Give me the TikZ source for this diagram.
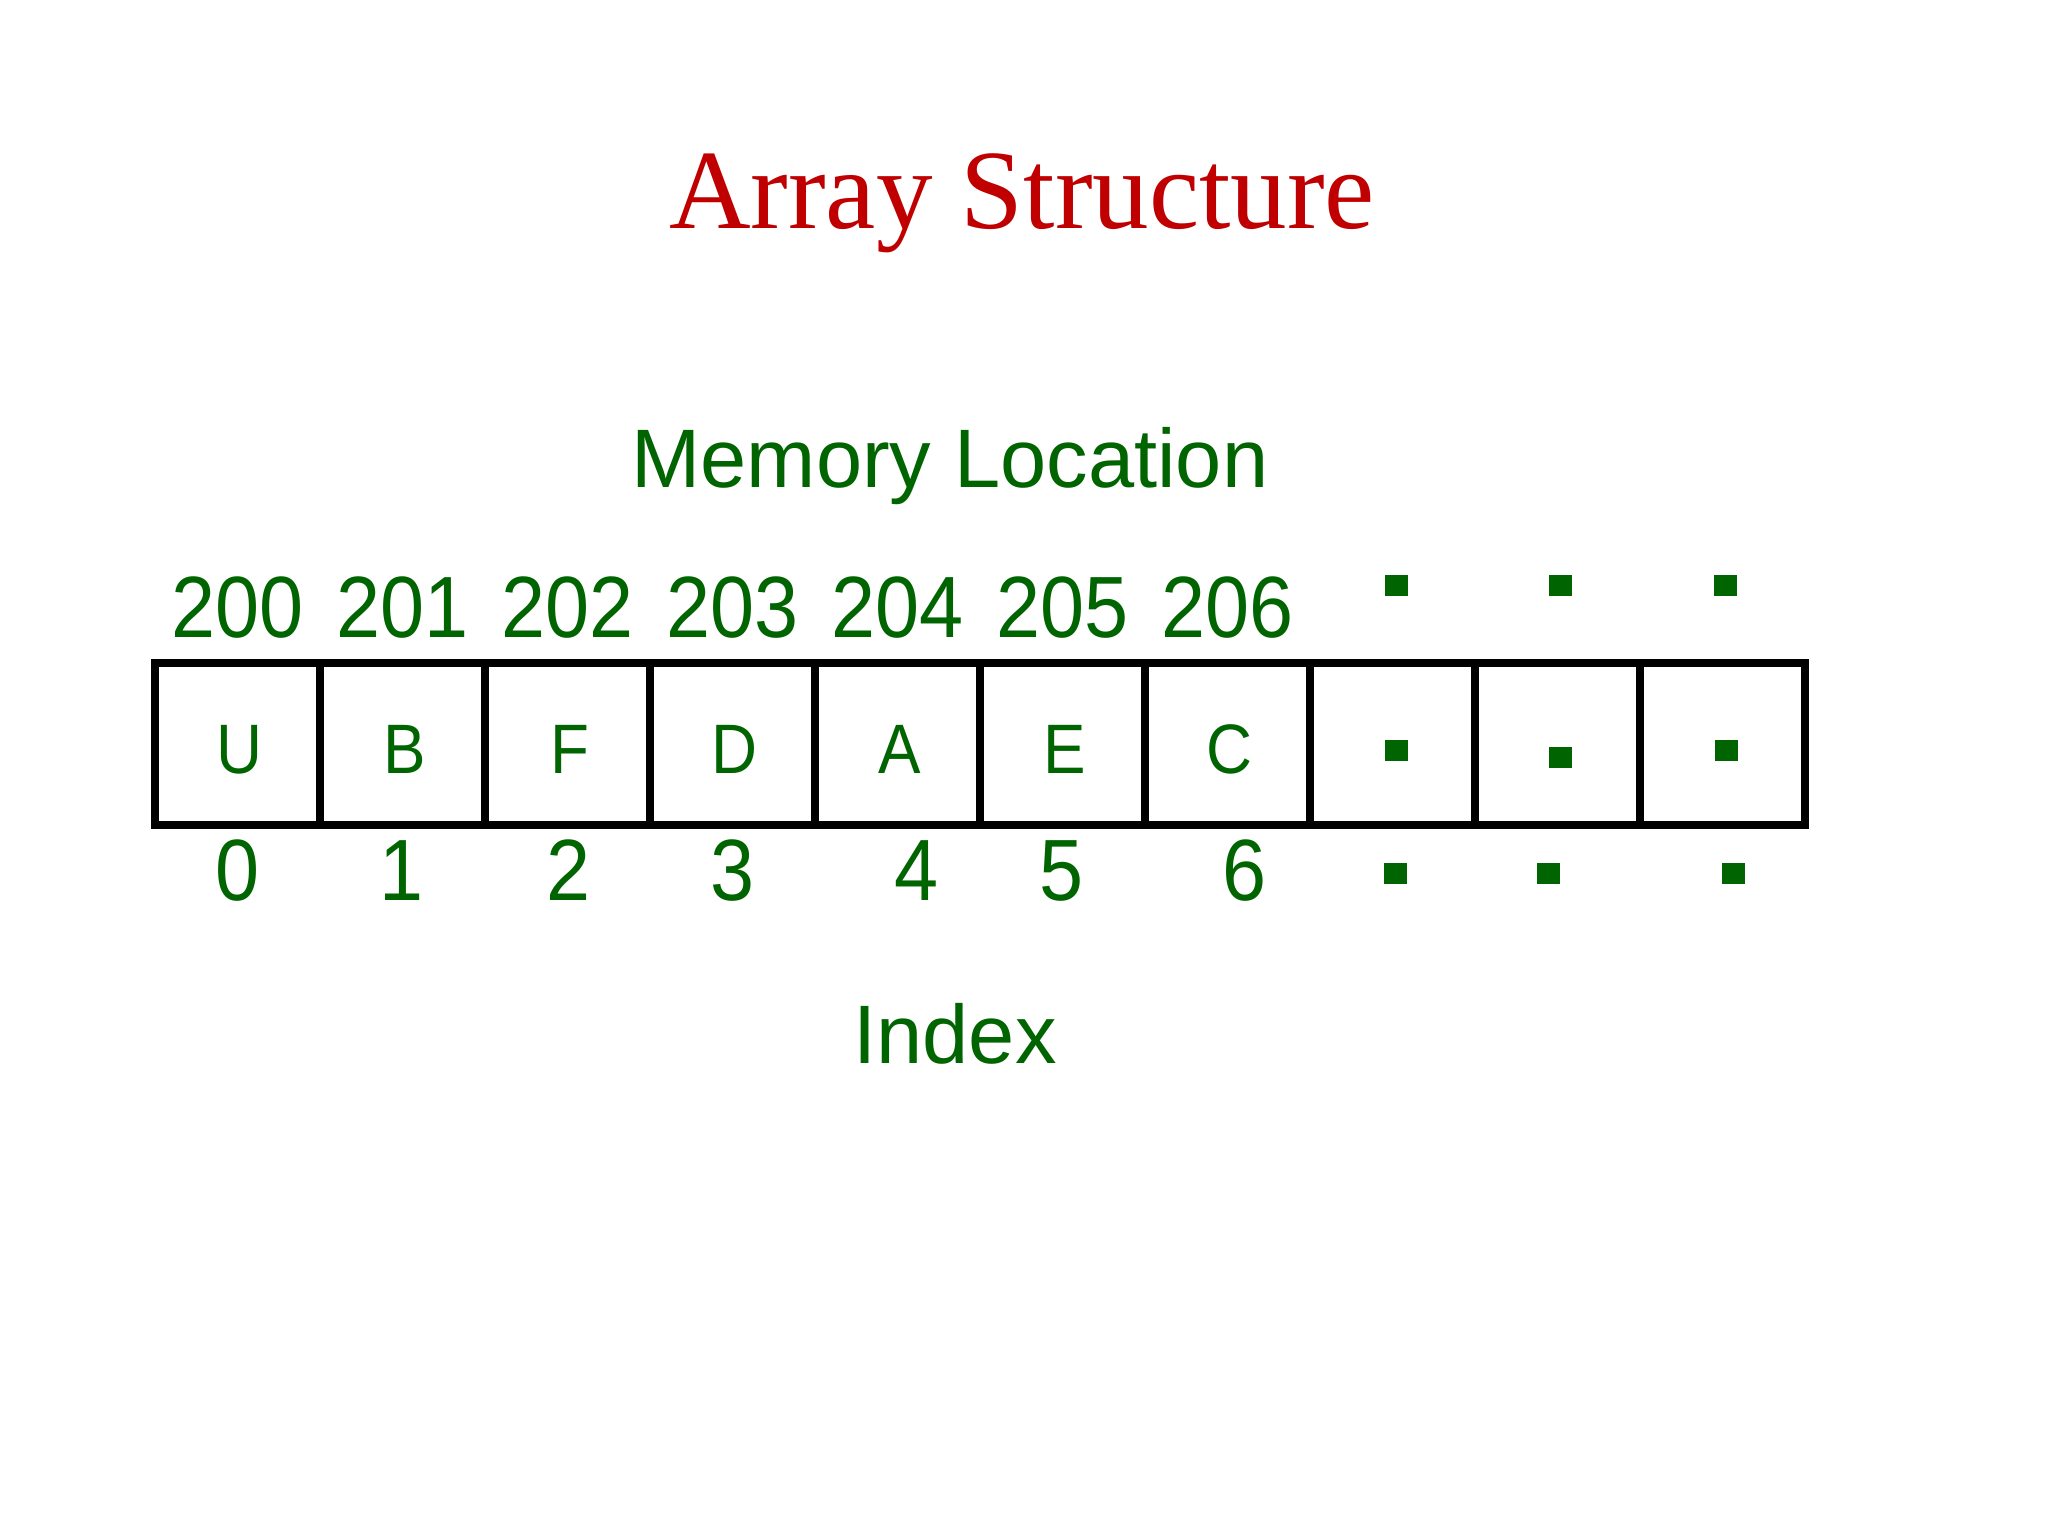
\documentclass[tikz,border=0pt]{standalone}
\usepackage{fontspec}
\setmainfont{Liberation Sans}
\newfontfamily\titlefont{Liberation Serif}
\newfontfamily\condfont[FakeStretch=0.91]{Liberation Sans}
\definecolor{titlered}{RGB}{192,0,0}
\definecolor{dgreen}{RGB}{0,100,0}
\begin{document}
\begin{tikzpicture}[x=1pt,y=-1pt,
  cellbox/.style={draw=black, line width=7.5pt, minimum width=165pt, minimum height=162pt, inner sep=0pt},
  celltext/.style={anchor=base, inner sep=0pt, text=dgreen, font=\condfont\fontsize{70}{80}\selectfont},
  numtext/.style={anchor=base, inner sep=0pt, text=dgreen, font=\condfont\fontsize{87}{100}\selectfont},
  headtext/.style={anchor=base, inner sep=0pt, text=dgreen, font=\fontsize{83}{96}\selectfont},
  titletext/.style={anchor=base, inner sep=0pt, text=titlered, font=\titlefont\fontsize{113}{130}\selectfont},
  sq/.style={fill=dgreen, minimum width=23pt, minimum height=21pt, inner sep=0pt}]
\path[fill=white, use as bounding box] (0,0) rectangle (2048,1535);

\node[titletext] (title) at (1022,228) {Array Structure};
\node[headtext] (memloc) at (950,487) {Memory Location};
\node[headtext] (index) at (955,1063) {Index};

% cells
\foreach \i in {1,...,10} {
  \node[cellbox] (c\i) at ({155+165*(\i-0.5)},744) {};
}
% cell contents
\foreach \l [count=\i] in {U,B,F,D,A,E,C} {
  \node[celltext] (v\i) at ({155+165*(\i-0.5)+2},773) {\l};
}
% addresses
\foreach \a [count=\i] in {200,201,202,203,204,205,206} {
  \node[numtext] (a\i) at ({155+165*(\i-0.5)},637) {\a};
}
% indices
\node[numtext] (i1) at (238,900) {0};
\node[numtext] (i2) at (402,900) {1};
\node[numtext] (i3) at (569,900) {2};
\node[numtext] (i4) at (733,900) {3};
\node[numtext] (i5) at (917,900) {4};
\node[numtext] (i6) at (1062,900) {5};
\node[numtext] (i7) at (1245,900) {6};

% dots
\node[sq] (ta8) at (1396,585) {};
\node[sq] (ta9) at (1560,585) {};
\node[sq] (ta10) at (1725,585) {};
\node[sq] (cd8) at (1396,750) {};
\node[sq] (cd9) at (1560,757) {};
\node[sq] (cd10) at (1726,750) {};
\node[sq] (bi8) at (1395,873) {};
\node[sq] (bi9) at (1548,873) {};
\node[sq] (bi10) at (1733,873) {};
\end{tikzpicture}
\end{document}
